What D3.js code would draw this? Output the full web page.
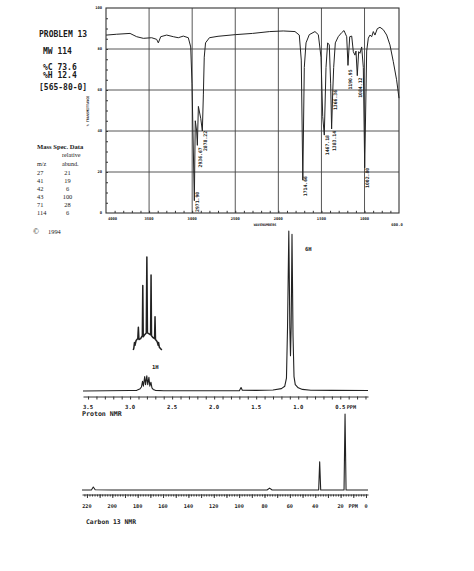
<!DOCTYPE html>
<html>
<head>
<meta charset="utf-8">
<script src="https://cdn.jsdelivr.net/npm/d3@7"></script>
<style>
body { margin: 0; background: #fff; }
svg { display: block; background: #fff; }
.mono { font-family: "DejaVu Sans Mono", monospace; font-weight: bold; fill: #1a1a1a; }
.serif { font-family: "Liberation Serif", "DejaVu Serif", serif; fill: #1a1a1a; }
.tick line { stroke: #333; }
</style>
</head>
<body>
<svg id="chart" width="474" height="571"></svg>
<script>

// header block
var problemLines = ["PROBLEM 13", "MW 114", "%C 73.6", "%H 12.4", "[565-80-0]"];
var massMz = ["27", "41", "42", "43", "71", "114"];
var massAbund = ["21", "19", "6", "100", "28", "6"];

// IR spectrum: [wavenumber, %T]
var irTrace = [[4000, 86.8], [3992, 86.8], [3876, 87.2], [3721, 87.6], [3644, 86], [3567, 85.2],
  [3470, 85.5], [3412, 84.7], [3393, 83], [3365, 86], [3296, 86.8], [3219, 86], [3161, 85.5],
  [3103, 86.3], [3045, 85.5], [3017, 81], [3002, 63], [2975, 6], [2964, 45], [2948, 40],
  [2940, 33], [2928, 52], [2900, 46], [2882, 40], [2870, 58], [2860, 76], [2845, 83],
  [2800, 85.5], [2700, 86.2], [2500, 87], [2300, 87.6], [2100, 88.5], [1943, 88.8],
  [1807, 88.5], [1757, 86.8], [1734, 74.6], [1716, 16], [1699, 71], [1679, 83], [1641, 87],
  [1575, 88.5], [1536, 87], [1505, 76], [1485, 47], [1467, 38], [1447, 71], [1428, 83],
  [1409, 82], [1393, 63], [1382, 41], [1369, 59], [1358, 71], [1339, 83], [1305, 86],
  [1265, 88], [1238, 89], [1207, 86], [1192, 72], [1172, 86], [1149, 86.3], [1130, 78.7],
  [1111, 77], [1099, 79], [1084, 67], [1068, 78.7], [1053, 77.9], [1033, 81], [1014, 71],
  [998, 22], [975, 79], [956, 85.3], [937, 86.8], [917, 86], [898, 88.5], [879, 86.8],
  [852, 89.9], [821, 90.6], [782, 89.4], [743, 86.8], [705, 82], [667, 74], [628, 65], [600, 56]];
// peak labels: [wavenumber, %T at tip, text]
var irPeakLabels = [[2975, 6, "2971.90"], [2940, 33, "2936.67"], [2882, 41, "2878.22"],
  [1716, 19, "1714.66"], [1467, 39, "1467.18"], [1382, 41, "1383.14"], [1369, 61, "1366.36"],
  [1192, 71, "1190.95"], [1084, 67, "1084.12"], [998, 23, "1002.80"]];
var irGridWn = [3500, 3000, 2500, 2000, 1500, 1000];
var irTickLabels = [4000, 3500, 3000, 2500, 2000, 1500, 1000];
var irGridT = [20, 40, 60, 80];
var irTLabels = [0, 20, 40, 60, 80, 100];

// proton NMR: [ppm, intensity]
var hTrace = [[3.56, 0], [3.0, 0.3], [2.92, 0.4], [2.885, 1.2], [2.865, 2.5], [2.852, 6], [2.842, 3],
  [2.826, 9], [2.816, 4], [2.801, 9.5], [2.79, 4], [2.776, 8.5], [2.765, 3], [2.752, 5.5],
  [2.74, 2], [2.725, 1], [2.70, 0.4], [2.6, 0.2], [1.70, 0.2], [1.68, 2.2], [1.665, 0.5],
  [1.5, 0.4], [1.3, 0.6], [1.2, 1.5], [1.16, 3], [1.14, 8], [1.127, 40], [1.112, 100], [1.1, 40],
  [1.092, 22], [1.084, 40], [1.074, 98], [1.062, 35], [1.05, 9], [1.035, 4], [1.0, 2],
  [0.95, 1], [0.85, 0.5], [0.6, 0.4], [0.17, 0.3]];
// expanded multiplet inset
var hInset = [[2.93, 0], [2.925, 2], [2.919, 8], [2.915, 5], [2.905, 10], [2.89, 12], [2.885, 24],
  [2.88, 11], [2.865, 12], [2.85, 15], [2.846, 68], [2.842, 14], [2.83, 16], [2.815, 18],
  [2.81, 98], [2.805, 18], [2.79, 17], [2.777, 16], [2.773, 79], [2.769, 15], [2.755, 13],
  [2.742, 12], [2.738, 35], [2.734, 11], [2.72, 9], [2.71, 5], [2.707, 8], [2.70, 3], [2.678, 0]];
var hTickLabels = ["3.5", "3.0", "2.5", "2.0", "1.5", "1.0", "0.5"];

// carbon 13 NMR: [ppm, intensity]
var cTrace = [[223.9, 0], [216.5, 0], [215, 4], [213.5, 0.3], [200, 0], [78, 0], [76, 2.5], [74, 0],
  [37.3, 0], [36.5, 37], [35.7, 0], [17.3, 0], [16.5, 100], [15.7, 0], [-1.6, 0]];
var cTickLabels = [220, 200, 180, 160, 140, 120, 100, 80, 60, 40, 20, 0];

var svg = d3.select("#chart");
var ink = "#222";

function draw_header() {
  var g = svg.append("g").attr("id", "header");
  var ys = [37, 54, 69.5, 78, 89.5];
  var xs = [39, 43, 43, 43, 39];
  g.selectAll(".pl").data(problemLines).enter().append("text")
    .attr("class", "mono").attr("font-size", 8)
    .attr("x", function(d, i) { return xs[i]; })
    .attr("y", function(d, i) { return ys[i]; })
    .text(function(d) { return d; });

  g.append("text").attr("class", "serif").attr("font-size", 6.6).attr("font-weight", "bold")
    .attr("x", 37).attr("y", 149).text("Mass Spec. Data");
  g.append("text").attr("class", "serif").attr("font-size", 6.2)
    .attr("x", 62).attr("y", 157).text("relative");
  g.append("text").attr("class", "serif").attr("font-size", 6.2)
    .attr("x", 37).attr("y", 165.5).text("m/z");
  g.append("text").attr("class", "serif").attr("font-size", 6.2)
    .attr("x", 62).attr("y", 165.5).text("abund.");

  var rowY = d3.scalePoint().domain(d3.range(massMz.length)).range([175, 215]);
  g.selectAll(".mz").data(massMz).enter().append("text")
    .attr("class", "serif").attr("font-size", 6.4)
    .attr("x", 37).attr("y", function(d, i) { return rowY(i); })
    .text(function(d) { return d; });
  g.selectAll(".ab").data(massAbund).enter().append("text")
    .attr("class", "serif").attr("font-size", 6.4).attr("text-anchor", "middle")
    .attr("x", 67.5).attr("y", function(d, i) { return rowY(i); })
    .text(function(d) { return d; });

  g.append("text").attr("class", "serif").attr("font-size", 8)
    .attr("x", 33).attr("y", 234).text("\u00A9");
  g.append("text").attr("class", "serif").attr("font-size", 6.4)
    .attr("x", 48).attr("y", 233.5).text("1994");
}

function draw_ir() {
  var irX = d3.scaleLinear().domain([4000, 600]).range([106, 399]);
  var irY = d3.scaleLinear().domain([0, 100]).range([213, 8]);
  var g = svg.append("g").attr("id", "ir");

  g.selectAll(".vgrid").data(irGridWn).enter().append("line")
    .attr("x1", function(d) { return irX(d); }).attr("x2", function(d) { return irX(d); })
    .attr("y1", irY(0)).attr("y2", irY(100))
    .attr("stroke", "#444").attr("stroke-width", 0.9);
  g.selectAll(".hgrid").data(irGridT).enter().append("line")
    .attr("x1", irX(4000)).attr("x2", irX(600))
    .attr("y1", function(d) { return irY(d); }).attr("y2", function(d) { return irY(d); })
    .attr("stroke", "#444").attr("stroke-width", 0.9);

  g.append("rect")
    .attr("x", irX(4000)).attr("y", irY(100))
    .attr("width", irX(600) - irX(4000)).attr("height", irY(0) - irY(100))
    .attr("fill", "none").attr("stroke", "#333").attr("stroke-width", 1.1);

  g.append("g").attr("transform", "translate(0," + irY(0) + ")")
    .call(d3.axisTop(irX).tickValues(d3.range(3900, 600, -100)).tickSize(2.2).tickFormat(""))
    .call(function(a) { a.select(".domain").remove(); });
  g.append("g").attr("transform", "translate(" + irX(4000) + ",0)")
    .call(d3.axisRight(irY).tickValues(d3.range(5, 100, 5)).tickSize(2).tickFormat(""))
    .call(function(a) { a.select(".domain").remove(); });

  g.selectAll(".xl").data(irTickLabels).enter().append("text")
    .attr("class", "mono").attr("font-size", 3.8)
    .attr("text-anchor", function(d, i) { return i == 0 ? "start" : "middle"; })
    .attr("x", function(d, i) { return i == 0 ? irX(d) + 2 : irX(d); })
    .attr("y", 220)
    .text(function(d) { return d; });
  g.append("text").attr("class", "mono").attr("font-size", 3.8).attr("text-anchor", "middle")
    .attr("x", irX(600) - 2).attr("y", 226).text("600.0");
  g.append("text").attr("class", "mono").attr("font-size", 3.4).attr("text-anchor", "middle")
    .attr("x", 265).attr("y", 226).text("WAVENUMBERS");

  g.selectAll(".yl").data(irTLabels).enter().append("text")
    .attr("class", "mono").attr("font-size", 3.8).attr("text-anchor", "end")
    .attr("x", irX(4000) - 4).attr("y", function(d) { return irY(d) + 1.3; })
    .text(function(d) { return d; });
  g.append("text").attr("class", "mono").attr("font-size", 3.4).attr("text-anchor", "middle")
    .attr("transform", "translate(89,111) rotate(-90)").text("% TRANSMITTANCE");

  var line = d3.line()
    .x(function(d) { return irX(d[0]); })
    .y(function(d) { return irY(d[1]); });
  g.append("path").datum(irTrace).attr("d", line)
    .attr("fill", "none").attr("stroke", ink).attr("stroke-width", 1).attr("stroke-linejoin", "round");

  var fs = 4.8;
  g.selectAll(".pk").data(irPeakLabels).enter().append("text")
    .attr("class", "mono").attr("font-size", fs)
    .attr("transform", function(d) {
      var len = d[2].length * 0.6 * fs;
      var yb = Math.min(irY(d[1]) + 2 + len, irY(0) - 1);
      return "translate(" + (irX(d[0]) + 1 + fs * 0.72) + "," + yb + ") rotate(-90)";
    })
    .text(function(d) { return d[2]; });
}

function draw_proton() {
  var hX = d3.scaleLinear().domain([3.56, 0.17]).range([83, 368]);
  var hY = d3.scaleLinear().domain([0, 100]).range([391, 231]);
  var g = svg.append("g").attr("id", "proton");

  g.append("g").attr("transform", "translate(0,396.5)")
    .call(d3.axisBottom(hX).tickValues(d3.range(0.2, 3.55, 0.1)).tickSize(3).tickSizeOuter(0).tickFormat(""))
    .call(function(a) { a.select(".domain").attr("stroke", "#333"); });

  g.selectAll(".hl").data(hTickLabels).enter().append("text")
    .attr("class", "mono").attr("font-size", 5.6).attr("text-anchor", "middle")
    .attr("x", function(d) { return hX(+d); }).attr("y", 408.5)
    .text(function(d) { return d; });
  g.append("text").attr("class", "mono").attr("font-size", 5.2)
    .attr("x", hX(0.5) + 6.5).attr("y", 408.5).text("PPM");
  g.append("text").attr("class", "mono").attr("font-size", 6.6)
    .attr("x", 82).attr("y", 415.5).text("Proton NMR");

  var line = d3.line()
    .x(function(d) { return hX(d[0]); })
    .y(function(d) { return hY(d[1]); });
  g.append("path").datum(hTrace).attr("d", line)
    .attr("fill", "none").attr("stroke", ink).attr("stroke-width", 1.1).attr("stroke-linejoin", "round");

  var insetX = d3.scaleLinear().domain([2.95, 2.65]).range([131, 165]);
  var insetY = d3.scaleLinear().domain([0, 100]).range([350, 255]);
  var inset = d3.line()
    .x(function(d) { return insetX(d[0]); })
    .y(function(d) { return insetY(d[1]); });
  g.append("path").datum(hInset).attr("d", inset)
    .attr("fill", "none").attr("stroke", ink).attr("stroke-width", 1.5).attr("stroke-linejoin", "round");

  g.append("text").attr("class", "mono").attr("font-size", 5.6).attr("text-anchor", "middle")
    .attr("x", hX(2.70)).attr("y", 369).text("1H");
  g.append("text").attr("class", "mono").attr("font-size", 5.6).attr("text-anchor", "middle")
    .attr("x", hX(0.88)).attr("y", 251).text("6H");
}

function draw_carbon() {
  var cX = d3.scaleLinear().domain([223.9, -1.6]).range([82, 368]);
  var cY = d3.scaleLinear().domain([0, 100]).range([490, 414]);
  var g = svg.append("g").attr("id", "carbon");

  g.append("g").attr("transform", "translate(0,494.5)")
    .call(d3.axisBottom(cX).tickValues(d3.range(0, 224, 2)).tickSize(2).tickSizeOuter(0).tickFormat(""))
    .call(function(a) { a.select(".domain").attr("stroke", "#333"); });
  g.append("g").attr("transform", "translate(0,494.5)")
    .call(d3.axisBottom(cX).tickValues(d3.range(0, 221, 10)).tickSize(3.5).tickSizeOuter(0).tickFormat(""))
    .call(function(a) { a.select(".domain").remove(); });

  g.selectAll(".cl").data(cTickLabels).enter().append("text")
    .attr("class", "mono").attr("font-size", 5.2).attr("text-anchor", "middle")
    .attr("x", function(d) { return cX(d); }).attr("y", 507.5)
    .text(function(d) { return d; });
  g.append("text").attr("class", "mono").attr("font-size", 5.2).attr("text-anchor", "middle")
    .attr("x", cX(10)).attr("y", 507.5).text("PPM");
  g.append("text").attr("class", "mono").attr("font-size", 6.4)
    .attr("x", 86).attr("y", 523.5).text("Carbon 13 NMR");

  var line = d3.line()
    .x(function(d) { return cX(d[0]); })
    .y(function(d) { return cY(d[1]); });
  g.append("path").datum(cTrace).attr("d", line)
    .attr("fill", "none").attr("stroke", ink).attr("stroke-width", 1.1).attr("stroke-linejoin", "round");
}

draw_header();
draw_ir();
draw_proton();
draw_carbon();
</script>
</body>
</html>
